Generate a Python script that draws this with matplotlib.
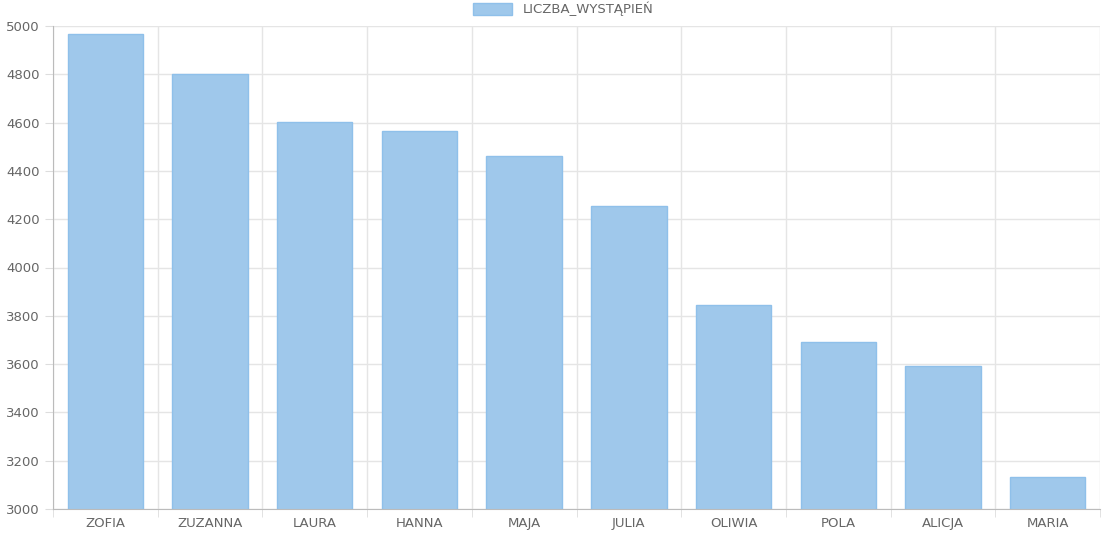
import matplotlib
matplotlib.use("Agg")
import matplotlib.pyplot as plt
from matplotlib.patches import Patch

names = ["ZOFIA","ZUZANNA","LAURA","HANNA","MAJA","JULIA","OLIWIA","POLA","ALICJA","MARIA"]
counts = [4967,4801,4602,4565,4462,4255,3845,3691,3592,3133]
yticks = list(range(3000,5001,200))

fig = plt.figure(figsize=(11.10,5.42), dpi=100)
ax = fig.add_axes([53/1110, 1-509/542, (1100-53)/1110, (509-26)/542])
x = range(len(names))
ax.bar(x, counts, width=0.72, color="#9fc8eb", edgecolor="#8fc0ea", linewidth=1, zorder=2)
ax.set_xlim(-0.5, len(names)-0.5)
ax.set_ylim(3000,5000)
ax.set_yticks(yticks)
ax.set_xticks(list(x))
ax.set_xticklabels(names)
ax.set_xticks([i+0.5 for i in range(-1,len(names))], minor=True)
ax.grid(False)
ax.yaxis.grid(True, color="#e5e5e5", linewidth=1, zorder=0)
ax.xaxis.grid(True, which="minor", color="#e5e5e5", linewidth=1, zorder=0)
ax.tick_params(axis="x", which="major", length=0, pad=6, labelsize=9.5, labelcolor="#666666")
ax.tick_params(axis="x", which="minor", length=6, color="#dddddd")
ax.tick_params(axis="y", length=6, color="#dddddd", labelsize=9.5, labelcolor="#666666")
for s in ["top","right"]:
    ax.spines[s].set_visible(False)
for s in ["left","bottom"]:
    ax.spines[s].set_color("#bbbbbb")
fig.legend(handles=[Patch(facecolor="#9fc8eb", edgecolor="#8fc0ea")], labels=["LICZBA_WYSTĄPIEŃ"],
           loc="center", bbox_to_anchor=(563/1110, 1-9/542), frameon=False, fontsize=9.5,
           labelcolor="#666666", handlelength=3, handleheight=1)
fig.savefig("out.png", dpi=100)
